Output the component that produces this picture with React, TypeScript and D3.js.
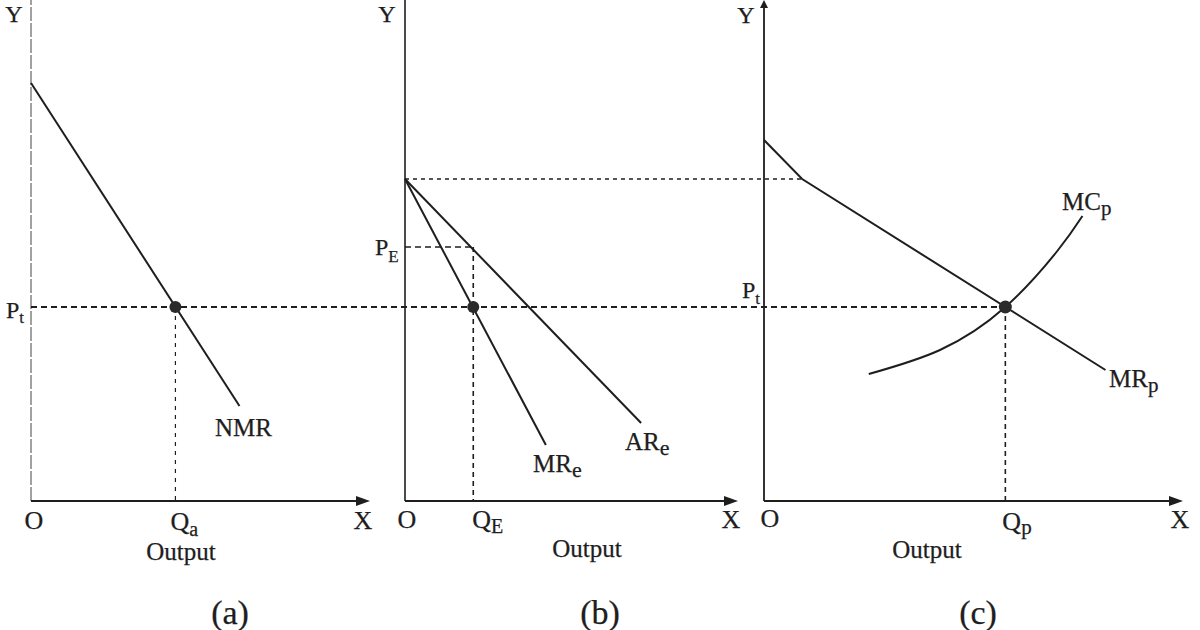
import React from "react";
import * as d3 from "d3";

// ---- data (price units 0..100, quantity units 0..100 per panel) ----
const nmrQ = [0, 61.5];
const nmrP = [83.6, 19];
const areQ = [0, 70.9];
const areP = [64.4, 15.6];
const mreQ = [0, 42.3];
const mreP = [64.4, 11.2];
const mrpQ = [0, 9.1, 81.5];
const mrpP = [72.2, 64.4, 26.2];
const mcpQ = [25, 42, 57.6, 70, 76];
const mcpP = [25.4, 30.2, 38.8, 50, 57];
const priceLevels = [38.8, 50.8, 64.4]; // Pt, PE, kink
const qtyLevels = [42.6, 20.5, 57.6]; // Qa, QE, Qp

const FONT = "'Liberation Serif', 'DejaVu Serif', serif";
const INK = "#1e1e1e";

const y = d3.scaleLinear().domain([0, 100]).range([501, 1]);
const xa = d3.scaleLinear().domain([0, 100]).range([31, 370]);
const xb = d3.scaleLinear().domain([0, 100]).range([405, 738]);
const xc = d3.scaleLinear().domain([0, 100]).range([764, 1183]);

function pathFor(xs: d3.ScaleLinear<number, number>, qs: number[], ps: number[], curve?: d3.CurveFactory) {
  const pts = qs.map((q, i) => [q, ps[i]] as [number, number]);
  const gen = d3.line<[number, number]>().x((d) => xs(d[0])).y((d) => y(d[1]));
  if (curve) gen.curve(curve);
  return gen(pts) || "";
}

function Label({ x, y: yy, main, sub, anchor = "start", size = 25, subSize = 18, dy = 6 }: any) {
  return (
    <text x={x} y={yy} fontFamily={FONT} fontSize={size} fill={INK} textAnchor={anchor} stroke={INK} strokeWidth={0.25}>
      {main}
      {sub ? (
        <tspan fontSize={subSize} dy={dy}>
          {sub}
        </tspan>
      ) : null}
    </text>
  );
}

function XAxis({ xs }: { xs: d3.ScaleLinear<number, number> }) {
  const x0 = xs(0);
  const x1 = xs(100);
  const yy = y(0);
  return (
    <g>
      <line x1={x0} y1={yy} x2={x1 - 10} y2={yy} stroke={INK} strokeWidth={2} />
      <path d={`M${x1},${yy} L${x1 - 14},${yy - 5} L${x1 - 14},${yy + 5} Z`} fill={INK} />
    </g>
  );
}

export default function App() {
  const [pt, pe, kink] = priceLevels;
  const [qa, qe, qp] = qtyLevels;
  const bigDash = "6 4";
  const smallDash = "4 4";
  return (
    <svg
      width={1200}
      height={630}
      viewBox="0 0 1200 630"
      style={{ position: "absolute", left: 0, top: 0, background: "#fff" }}
    >
      <rect x={0} y={0} width={1200} height={630} fill="#ffffff" />

      {/* ---------- Panel (a) ---------- */}
      <line x1={xa(0)} y1={y(0)} x2={xa(0)} y2={0} stroke="#8a8a8a" strokeWidth={1.6} strokeDasharray="14 2" />
      <XAxis xs={xa} />
      <path d={pathFor(xa, nmrQ, nmrP)} fill="none" stroke={INK} strokeWidth={2} />

      {/* ---------- Panel (b) ---------- */}
      <line x1={xb(0)} y1={y(0)} x2={xb(0)} y2={0} stroke={INK} strokeWidth={1.6} />
      <XAxis xs={xb} />
      <path d={pathFor(xb, areQ, areP)} fill="none" stroke={INK} strokeWidth={2} />
      <path d={pathFor(xb, mreQ, mreP)} fill="none" stroke={INK} strokeWidth={2} />

      {/* ---------- Panel (c) ---------- */}
      <line x1={xc(0)} y1={y(0)} x2={xc(0)} y2={6} stroke={INK} strokeWidth={1.8} />
      <path d={`M${xc(0)},0 L${xc(0) - 4},8 L${xc(0) + 4},8 Z`} fill={INK} />
      <XAxis xs={xc} />
      <path d={pathFor(xc, mrpQ, mrpP)} fill="none" stroke={INK} strokeWidth={2} />
      <path d={pathFor(xc, mcpQ, mcpP, d3.curveNatural)} fill="none" stroke={INK} strokeWidth={2} />

      {/* ---------- dashed guides ---------- */}
      <line x1={xa(0)} y1={y(pt)} x2={xc(qp)} y2={y(pt)} stroke={INK} strokeWidth={2} strokeDasharray={bigDash} />
      <line x1={xb(0)} y1={y(kink)} x2={xc(mrpQ[1])} y2={y(kink)} stroke={INK} strokeWidth={1.3} strokeDasharray={smallDash} />
      <line x1={xb(0)} y1={y(pe)} x2={xb(qe)} y2={y(pe)} stroke={INK} strokeWidth={1.6} strokeDasharray={bigDash} />
      <line x1={xa(qa)} y1={y(pt)} x2={xa(qa)} y2={y(0)} stroke={INK} strokeWidth={1.2} strokeDasharray="4 5" />
      <line x1={xb(qe)} y1={y(pe)} x2={xb(qe)} y2={y(0)} stroke={INK} strokeWidth={1.6} strokeDasharray="5 4" />
      <line x1={xc(qp)} y1={y(pt)} x2={xc(qp)} y2={y(0)} stroke={INK} strokeWidth={1.6} strokeDasharray="5 4" />

      {/* ---------- equilibrium points ---------- */}
      <circle cx={xa(qa)} cy={y(pt)} r={6} fill="#2a2a2a" />
      <circle cx={xb(qe)} cy={y(pt)} r={6} fill="#2a2a2a" />
      <circle cx={xc(qp)} cy={y(pt)} r={6.5} fill="#2a2a2a" />

      {/* ---------- labels (a) ---------- */}
      <Label x={14} y={22} main="Y" anchor="middle" size={24} />
      <Label x={6} y={318} main="P" sub="t" size={24} subSize={17} dy={5} />
      <Label x={34} y={529} main="O" anchor="middle" size={26} />
      <Label x={xa(qa) - 5} y={530} main="Q" sub="a" size={26} subSize={20} dy={6} />
      <Label x={363} y={529} main="X" anchor="middle" size={26} />
      <Label x={181} y={560} main="Output" anchor="middle" size={25} />
      <Label x={215} y={436} main="NMR" size={25} />
      <Label x={230} y={624} main="(a)" anchor="middle" size={34} />

      {/* ---------- labels (b) ---------- */}
      <Label x={387} y={22} main="Y" anchor="middle" size={24} />
      <Label x={375} y={255} main="P" sub="E" size={24} subSize={17} dy={7} />
      <Label x={407} y={528} main="O" anchor="middle" size={26} />
      <Label x={xb(qe) - 1} y={528} main="Q" sub="E" size={26} subSize={20} dy={5} />
      <Label x={731} y={528} main="X" anchor="middle" size={26} />
      <Label x={587} y={557} main="Output" anchor="middle" size={25} />
      <Label x={533} y={472} main="MR" sub="e" size={25} subSize={22} dy={5} />
      <Label x={625} y={450} main="AR" sub="e" size={25} subSize={22} dy={5} />
      <Label x={600} y={624} main="(b)" anchor="middle" size={34} />

      {/* ---------- labels (c) ---------- */}
      <Label x={746} y={23} main="Y" anchor="middle" size={24} />
      <Label x={742} y={298} main="P" sub="t" size={24} subSize={17} dy={6} />
      <Label x={770} y={527} main="O" anchor="middle" size={26} />
      <Label x={xc(qp) - 3} y={530} main="Q" sub="p" size={26} subSize={21} dy={4} />
      <Label x={1180} y={528} main="X" anchor="middle" size={26} />
      <Label x={927} y={558} main="Output" anchor="middle" size={25} />
      <Label x={1062} y={210} main="MC" sub="p" size={25} subSize={21} dy={5} />
      <Label x={1109} y={387} main="MR" sub="p" size={25} subSize={21} dy={5} />
      <Label x={978} y={624} main="(c)" anchor="middle" size={34} />
    </svg>
  );
}
